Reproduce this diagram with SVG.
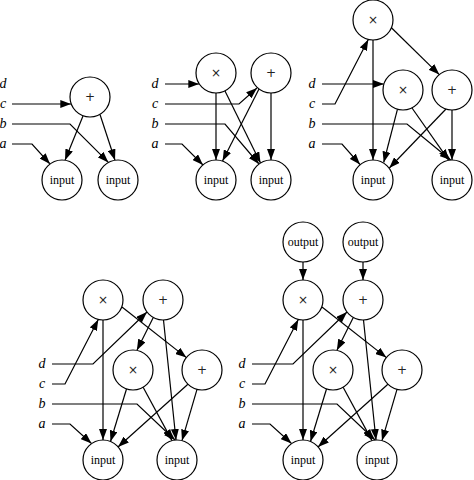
<svg xmlns="http://www.w3.org/2000/svg" width="474" height="480" viewBox="0 0 474 480">
<style>
.n circle{fill:#fff;stroke:#000;stroke-width:1.2}
.t{font-family:"Liberation Serif",serif;font-size:12px;text-anchor:middle;fill:#000}
.op{font-family:"DejaVu Sans",sans-serif;font-size:12px;text-anchor:middle;fill:#222}
.lb{font-family:"Liberation Serif",serif;font-style:italic;font-size:14px;text-anchor:middle;fill:#000}
.e path{fill:none;stroke:#000;stroke-width:1.2;marker-end:url(#ah)}
</style>
<defs>
<marker id="ah" markerUnits="userSpaceOnUse" markerWidth="11" markerHeight="8" refX="11" refY="4" orient="auto">
<path d="M0,0 L11,4 L0,8 z" fill="#000"/>
</marker>
</defs>
<rect width="474" height="480" fill="#fff"/>

<g id="labels">
<text class="lb" x="3" y="88">d</text><text class="lb" x="3" y="108">c</text><text class="lb" x="3" y="128">b</text><text class="lb" x="3" y="148">a</text>
<text class="lb" x="155" y="88">d</text><text class="lb" x="155" y="108">c</text><text class="lb" x="155" y="128">b</text><text class="lb" x="155" y="148">a</text>
<text class="lb" x="312" y="88">d</text><text class="lb" x="312" y="108">c</text><text class="lb" x="312" y="128">b</text><text class="lb" x="312" y="148">a</text>
<text class="lb" x="42" y="368">d</text><text class="lb" x="42" y="388">c</text><text class="lb" x="42" y="408">b</text><text class="lb" x="42" y="428">a</text>
<text class="lb" x="242" y="368">d</text><text class="lb" x="242" y="388">c</text><text class="lb" x="242" y="408">b</text><text class="lb" x="242" y="428">a</text>
</g>

<g id="connectors" class="e">
<!-- panel 1 -->
<path d="M12,104 H71.3"/>
<path d="M12,124 H70 L108.4,162.4"/>
<path d="M12,144 H32 L50,164"/>
<path d="M83,116 L65,160.2"/>
<path d="M100,114.5 L115,160.2"/>
<!-- panel 2 -->
<path d="M165,84 H199.3"/>
<path d="M165,104 H239 L257,88"/>
<path d="M165,124 H225 L259,164"/>
<path d="M165,144 H182 L203,165"/>
<path d="M216,93 V160"/>
<path d="M225,91 L260.5,163"/>
<path d="M259,89 L222.5,161"/>
<path d="M271,93 V160"/>
<!-- panel 3 -->
<path d="M322,84 H383.9"/>
<path d="M322,104 H335 L368.3,39.5"/>
<path d="M322,124 H407 L450.7,160"/>
<path d="M322,144 H342 L360,164.5"/>
<path d="M373,40 V160"/>
<path d="M391.4,27.8 L439.3,74.6"/>
<path d="M397.5,109.2 L383.7,162.5"/>
<path d="M412,108 L448.8,160.3"/>
<path d="M446,109 L389.3,168"/>
<path d="M452,110 V160"/>
<!-- panel 4 -->
<path d="M52,364 H93 L147,312"/>
<path d="M52,384 H65 L98.3,319.5"/>
<path d="M52,404 H137 L175,440"/>
<path d="M52,424 H70 L91.5,443.5"/>
<path d="M103,320 V440"/>
<path d="M122,307 L186.4,357.6"/>
<path d="M153.3,317.5 L136.9,350.3"/>
<path d="M163.5,320 L176,440"/>
<path d="M126.5,389 L110.5,441.5"/>
<path d="M143,387 L172,440.6"/>
<path d="M187.9,384.2 L118,447"/>
<path d="M197,389.4 L182,440.6"/>
<!-- panel 5 -->
<path d="M303,262 V280"/>
<path d="M363,262 V280"/>
<path d="M252,364 H293 L347,312"/>
<path d="M252,384 H265 L298.3,319.5"/>
<path d="M252,404 H337 L375,440"/>
<path d="M252,424 H270 L291.5,443.5"/>
<path d="M303,320 V440"/>
<path d="M322,307 L386.4,357.6"/>
<path d="M353.3,317.5 L336.9,350.3"/>
<path d="M363.5,320 L376,440"/>
<path d="M326.5,389 L310.5,441.5"/>
<path d="M343,387 L372,440.6"/>
<path d="M387.9,384.2 L318,447"/>
<path d="M397,389.4 L382,440.6"/>
</g>

<!-- panel 1 nodes -->
<g id="p1-add" class="n"><circle cx="90" cy="97" r="20"/><text class="op" x="90" y="101">+</text></g>
<g id="p1-in1" class="n"><circle cx="62" cy="180" r="20"/><text class="t" x="62" y="184">input</text></g>
<g id="p1-in2" class="n"><circle cx="118" cy="180" r="20"/><text class="t" x="118" y="184">input</text></g>
<!-- panel 2 nodes -->
<g id="p2-mul" class="n"><circle cx="216" cy="73" r="20"/><text class="op" x="216" y="77">×</text></g>
<g id="p2-add" class="n"><circle cx="271" cy="73" r="20"/><text class="op" x="271" y="77">+</text></g>
<g id="p2-in1" class="n"><circle cx="216" cy="180" r="20"/><text class="t" x="216" y="184">input</text></g>
<g id="p2-in2" class="n"><circle cx="271" cy="180" r="20"/><text class="t" x="271" y="184">input</text></g>
<!-- panel 3 nodes -->
<g id="p3-mul1" class="n"><circle cx="373" cy="20" r="20"/><text class="op" x="373" y="24">×</text></g>
<g id="p3-mul2" class="n"><circle cx="403" cy="90" r="20"/><text class="op" x="403" y="94">×</text></g>
<g id="p3-add" class="n"><circle cx="452" cy="90" r="20"/><text class="op" x="452" y="94">+</text></g>
<g id="p3-in1" class="n"><circle cx="373" cy="180" r="20"/><text class="t" x="373" y="184">input</text></g>
<g id="p3-in2" class="n"><circle cx="452" cy="180" r="20"/><text class="t" x="452" y="184">input</text></g>
<!-- panel 4 nodes -->
<g id="p4-mul1" class="n"><circle cx="103" cy="300" r="20"/><text class="op" x="103" y="304">×</text></g>
<g id="p4-add1" class="n"><circle cx="163" cy="300" r="20"/><text class="op" x="163" y="304">+</text></g>
<g id="p4-mul2" class="n"><circle cx="133" cy="370" r="20"/><text class="op" x="133" y="374">×</text></g>
<g id="p4-add2" class="n"><circle cx="202" cy="370" r="20"/><text class="op" x="202" y="374">+</text></g>
<g id="p4-in1" class="n"><circle cx="103" cy="460" r="20"/><text class="t" x="103" y="464">input</text></g>
<g id="p4-in2" class="n"><circle cx="177" cy="460" r="20"/><text class="t" x="177" y="464">input</text></g>
<!-- panel 5 nodes -->
<g id="p5-out1" class="n"><circle cx="303" cy="242" r="20"/><text class="t" x="303" y="246">output</text></g>
<g id="p5-out2" class="n"><circle cx="363" cy="242" r="20"/><text class="t" x="363" y="246">output</text></g>
<g id="p5-mul1" class="n"><circle cx="303" cy="300" r="20"/><text class="op" x="303" y="304">×</text></g>
<g id="p5-add1" class="n"><circle cx="363" cy="300" r="20"/><text class="op" x="363" y="304">+</text></g>
<g id="p5-mul2" class="n"><circle cx="333" cy="370" r="20"/><text class="op" x="333" y="374">×</text></g>
<g id="p5-add2" class="n"><circle cx="402" cy="370" r="20"/><text class="op" x="402" y="374">+</text></g>
<g id="p5-in1" class="n"><circle cx="303" cy="460" r="20"/><text class="t" x="303" y="464">input</text></g>
<g id="p5-in2" class="n"><circle cx="377" cy="460" r="20"/><text class="t" x="377" y="464">input</text></g>
</svg>
